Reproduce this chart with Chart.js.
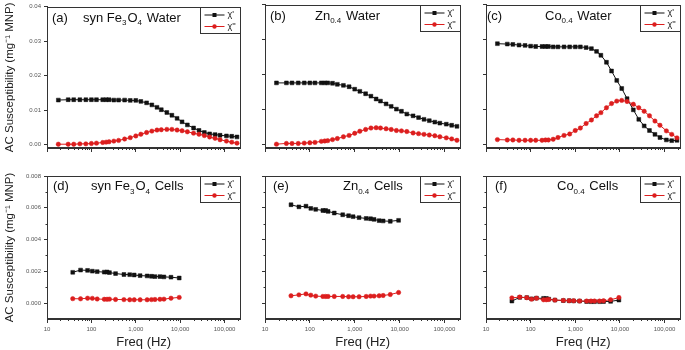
<!DOCTYPE html>
<html>
<head>
<meta charset="utf-8">
<script src="https://cdn.jsdelivr.net/npm/chart.js@4.4.1/dist/chart.umd.min.js"></script>
<style>
  html, body { margin: 0; padding: 0; background: #fff; }
  #wrap { position: relative; width: 685px; height: 350px; overflow: hidden; }
  canvas { position: absolute; }
</style>
</head>
<body>
<div id="wrap">
  <canvas id="pa" width="245" height="160" style="left:0px;top:0px"></canvas>
  <canvas id="pb" width="220" height="160" style="left:245px;top:0px"></canvas>
  <canvas id="pc" width="220" height="160" style="left:465px;top:0px"></canvas>
  <canvas id="pd" width="245" height="190" style="left:0px;top:160px"></canvas>
  <canvas id="pe" width="220" height="190" style="left:245px;top:160px"></canvas>
  <canvas id="pf" width="220" height="190" style="left:465px;top:160px"></canvas>
</div>
<script>
// frecuencias (Hz)
const freqWater = [18, 30, 40, 55, 75, 100, 130, 180, 215, 250, 320, 410, 560, 750, 1000, 1300, 1750, 2300, 3000, 3750, 5000, 6500, 8500, 11000, 14500, 20000, 26500, 35000, 46000, 61000, 79000, 110000, 145000, 190000];
const freqCells = [38, 57, 82, 105, 135, 195, 225, 255, 350, 540, 730, 920, 1250, 1800, 2250, 2700, 3500, 4300, 6200, 9500];

// (a) syn Fe3O4 Water
const aChi1 = [0.0129, 0.0130, 0.0130, 0.0130, 0.0130, 0.0130, 0.0130, 0.0130, 0.0130, 0.0130, 0.0129, 0.0129, 0.0129, 0.0128, 0.0128, 0.0125, 0.0121, 0.0115, 0.0108, 0.0101, 0.0093, 0.0085, 0.0076, 0.0066, 0.0057, 0.0048, 0.0041, 0.0035, 0.0031, 0.0029, 0.0027, 0.0025, 0.0024, 0.0022];
const aChi2 = [0.0001, 0.0001, 0.0001, 0.0002, 0.0002, 0.0003, 0.0004, 0.0006, 0.0007, 0.0008, 0.0010, 0.0012, 0.0016, 0.0020, 0.0025, 0.0030, 0.0035, 0.0039, 0.0042, 0.0043, 0.0044, 0.0044, 0.0042, 0.0040, 0.0037, 0.0033, 0.0030, 0.0026, 0.0022, 0.0018, 0.0014, 0.0010, 0.0007, 0.0004];
// (b) Zn0.4 Water
const bChi1 = [0.0176, 0.0176, 0.0176, 0.0176, 0.0176, 0.0176, 0.0176, 0.0176, 0.0176, 0.0176, 0.0175, 0.0172, 0.0169, 0.0165, 0.0158, 0.0152, 0.0145, 0.0138, 0.0130, 0.0124, 0.0116, 0.0109, 0.0101, 0.0095, 0.0087, 0.0082, 0.0077, 0.0072, 0.0068, 0.0064, 0.0061, 0.0058, 0.0055, 0.0052];
const bChi2 = [0.0001, 0.0003, 0.0003, 0.0003, 0.0004, 0.0005, 0.0006, 0.0009, 0.0010, 0.0011, 0.0014, 0.0017, 0.0022, 0.0026, 0.0032, 0.0038, 0.0043, 0.0047, 0.0048, 0.0047, 0.0045, 0.0043, 0.0040, 0.0039, 0.0037, 0.0033, 0.0031, 0.0029, 0.0027, 0.0025, 0.0022, 0.0019, 0.0016, 0.0012];
// (c) Co0.4 Water
const cChi1 = [0.0288, 0.0287, 0.0286, 0.0284, 0.0283, 0.0281, 0.0280, 0.0280, 0.0280, 0.0280, 0.0279, 0.0279, 0.0279, 0.0279, 0.0279, 0.0279, 0.0277, 0.0274, 0.0266, 0.0255, 0.0235, 0.0210, 0.0183, 0.0160, 0.0131, 0.0099, 0.0072, 0.0053, 0.0040, 0.0029, 0.0020, 0.0013, 0.0011, 0.0012];
const cChi2 = [0.0014, 0.0013, 0.0013, 0.0012, 0.0012, 0.0012, 0.0012, 0.0012, 0.0013, 0.0013, 0.0015, 0.0020, 0.0026, 0.0030, 0.0040, 0.0047, 0.0060, 0.0070, 0.0082, 0.0091, 0.0105, 0.0117, 0.0124, 0.0126, 0.0123, 0.0115, 0.0105, 0.0095, 0.0082, 0.0067, 0.0055, 0.0039, 0.0029, 0.0019];
// (d) syn Fe3O4 Cells
const dChi1 = [0.00194, 0.00208, 0.00206, 0.00201, 0.00198, 0.00195, 0.00196, 0.00192, 0.00186, 0.00180, 0.00179, 0.00177, 0.00173, 0.00171, 0.00169, 0.00167, 0.00167, 0.00165, 0.00163, 0.00158];
const dChi2 = [0.00028, 0.00027, 0.00031, 0.00030, 0.00026, 0.00024, 0.00024, 0.00025, 0.00023, 0.00022, 0.00021, 0.00021, 0.00021, 0.00021, 0.00022, 0.00023, 0.00024, 0.00025, 0.00031, 0.00036];
// (e) Zn0.4 Cells
const eChi1 = [0.00619, 0.00606, 0.00610, 0.00596, 0.00590, 0.00583, 0.00583, 0.00577, 0.00567, 0.00556, 0.00550, 0.00544, 0.00538, 0.00533, 0.00531, 0.00527, 0.00519, 0.00517, 0.00515, 0.00521];
const eChi2 = [0.00046, 0.00052, 0.00058, 0.00050, 0.00044, 0.00042, 0.00042, 0.00042, 0.00042, 0.00042, 0.00040, 0.00040, 0.00040, 0.00042, 0.00044, 0.00044, 0.00046, 0.00048, 0.00054, 0.00067];
// (f) Co0.4 Cells
const fChi1 = [0.00013, 0.00036, 0.00035, 0.00027, 0.00031, 0.00030, 0.00029, 0.00025, 0.00019, 0.00016, 0.00015, 0.00014, 0.00013, 0.00010, 0.00009, 0.00009, 0.00009, 0.00010, 0.00011, 0.00019];
const fChi2 = [0.00033, 0.00038, 0.00034, 0.00025, 0.00031, 0.00021, 0.00021, 0.00023, 0.00019, 0.00017, 0.00015, 0.00015, 0.00013, 0.00013, 0.00013, 0.00013, 0.00013, 0.00015, 0.00021, 0.00035];

// ticks
const xMajorTicks = [10, 100, 1000, 10000, 100000];
const xTickLabels = ['10', '100', '1,000', '10,000', '100,000'];
const yTicksWater = [0, 0.01, 0.02, 0.03, 0.04];
const yLabelsWater = ['0.00', '0.01', '0.02', '0.03', '0.04'];
const yTicksCells = [0, 0.002, 0.004, 0.006, 0.008];
const yLabelsCells = ['0.000', '0.002', '0.004', '0.006', '0.008'];
const yMinorCells = [0.001, 0.003, 0.005, 0.007];
const legendLabels = ["χ'", "χ''"];

const FONT = '"Liberation Sans", Arial, sans-serif';
const BLACK = '#111111';
const RED = '#dc1e1e';
const AXIS = '#333333';

// marcos, ticks menores, titulo del panel y leyenda
const panelDeco = {
    id: 'panelDeco',
    afterDraw(chart, args, opts) {
        const ctx = chart.ctx;
        const a = chart.chartArea;
        const xs = chart.scales.x;
        const ys = chart.scales.y;
        ctx.save();

        // marco completo
        ctx.strokeStyle = AXIS;
        ctx.lineWidth = 1;
        const L = Math.round(a.left) + 0.5, R = Math.round(a.right) - 0.5;
        const T = Math.round(a.top) + 0.5, B = Math.round(a.bottom) - 0.5;
        ctx.strokeRect(L, T, R - L, B - T);

        // ticks menores del eje x (log)
        ctx.beginPath();
        xMajorTicks.forEach(base => {
            for (let k = 2; k <= 9; k++) {
                const v = base * k;
                if (v > xs.max) continue;
                const px = Math.round(xs.getPixelForValue(v)) + 0.5;
                ctx.moveTo(px, B);
                ctx.lineTo(px, B + 2.5);
            }
        });
        // ticks menores del eje y
        (opts.yMinor || []).forEach(v => {
            const py = Math.round(ys.getPixelForValue(v)) + 0.5;
            ctx.moveTo(L, py);
            ctx.lineTo(L - 2, py);
        });
        ctx.stroke();

        // titulo del panel con subindices
        ctx.fillStyle = '#111';
        ctx.textBaseline = 'alphabetic';
        ctx.textAlign = 'left';
        const ty = a.top + opts.titleY;
        ctx.font = '13px ' + FONT;
        ctx.fillText(opts.tag, a.left + opts.tagX, ty);
        let x = a.left + opts.nameX;
        opts.runs.forEach(r => {
            const sub = r[1];
            ctx.font = (sub ? '8px ' : '13px ') + FONT;
            ctx.fillText(r[0], x, ty + (sub ? 3.5 : 0));
            x += ctx.measureText(r[0]).width + (sub ? 1 : 0);
        });

        // leyenda
        const bw = 40, bh = 26;
        const bx = Math.round(a.right) - bw - 0.5, by = T;
        ctx.fillStyle = '#fff';
        ctx.fillRect(bx, by, bw, bh);
        ctx.strokeStyle = AXIS;
        ctx.strokeRect(bx, by, bw, bh);
        const rows = [
            { c: BLACK, rect: true, y: by + 7.5, t: legendLabels[0] },
            { c: RED, rect: false, y: by + 19, t: legendLabels[1] }
        ];
        rows.forEach(r => {
            ctx.strokeStyle = r.c;
            ctx.fillStyle = r.c;
            ctx.lineWidth = 1;
            ctx.beginPath();
            ctx.moveTo(bx + 4, r.y);
            ctx.lineTo(bx + 24, r.y);
            ctx.stroke();
            const mx = bx + 14;
            if (r.rect) {
                ctx.fillRect(mx - 2, r.y - 2, 4, 4);
            } else {
                ctx.beginPath();
                ctx.arc(mx, r.y, 2.2, 0, Math.PI * 2);
                ctx.fill();
            }
            ctx.fillStyle = '#222';
            ctx.font = '9px ' + FONT;
            ctx.textBaseline = 'middle';
            ctx.fillText(r.t, bx + 27, r.y);
        });

        ctx.restore();
    }
};

function pts(freq, vals) {
    return freq.map((f, i) => ({ x: f, y: vals[i] }));
}

function makePanel(id, cfg) {
    const canvas = document.getElementById(id);
    return new Chart(canvas.getContext('2d'), {
        type: 'line',
        data: {
            datasets: [{
                label: legendLabels[1],
                data: pts(cfg.freq, cfg.chi2),
                borderColor: RED,
                backgroundColor: RED,
                borderWidth: 1,
                pointStyle: 'circle',
                pointRadius: 2.2,
                pointBorderWidth: 0.5,
                tension: 0,
                order: 0
            }, {
                label: legendLabels[0],
                data: pts(cfg.freq, cfg.chi1),
                borderColor: BLACK,
                backgroundColor: BLACK,
                borderWidth: 1,
                pointStyle: 'rect',
                pointRadius: 2.7,
                pointBorderWidth: 0.5,
                tension: 0,
                order: 1
            }]
        },
        options: {
            responsive: false,
            animation: false,
            devicePixelRatio: 1,
            events: [],
            layout: { padding: { top: cfg.padTop, right: cfg.padRight, left: 0, bottom: 0 } },
            plugins: {
                legend: { display: false },
                tooltip: { enabled: false },
                panelDeco: cfg.deco
            },
            scales: {
                x: {
                    type: 'logarithmic',
                    min: 10,
                    max: 228000,
                    afterBuildTicks: s => { s.ticks = xMajorTicks.map(v => ({ value: v, major: true })); },
                    afterFit: s => { s.height = cfg.xHeight; },
                    grid: { drawOnChartArea: false, drawTicks: true, tickLength: 4, tickColor: AXIS, color: AXIS },
                    border: { color: AXIS },
                    ticks: {
                        display: cfg.showX,
                        autoSkip: false,
                        maxRotation: 0,
                        padding: 3,
                        color: '#555',
                        font: { size: 6, family: FONT },
                        callback: v => xTickLabels[xMajorTicks.indexOf(v)]
                    },
                    title: {
                        display: cfg.showX,
                        text: 'Freq (Hz)',
                        color: '#222',
                        font: { size: 13, family: FONT },
                        padding: 0
                    }
                },
                y: {
                    type: 'linear',
                    min: -0.001,
                    max: cfg.yMax,
                    afterBuildTicks: s => { s.ticks = cfg.yTicks.map(v => ({ value: v })); },
                    afterFit: s => { s.width = cfg.yWidth; },
                    grid: { drawOnChartArea: false, drawTicks: true, tickLength: 3, tickColor: AXIS, color: AXIS },
                    border: { color: AXIS },
                    ticks: {
                        display: cfg.showY,
                        padding: 3,
                        color: '#555',
                        font: { size: 6, family: FONT },
                        callback: v => cfg.yLabels[cfg.yTicks.indexOf(v)]
                    },
                    title: {
                        display: cfg.showY,
                        text: 'AC Susceptibility (mg⁻¹ MNP)',
                        color: '#222',
                        font: { size: 11.5, family: FONT },
                        padding: { top: 3, bottom: 0 }
                    }
                }
            }
        },
        plugins: [panelDeco]
    });
}

const water = { freq: freqWater, yMax: 0.04, yTicks: yTicksWater, yLabels: yLabelsWater, padTop: 4, xHeight: 12, showX: false };
const cells = { freq: freqCells, yMax: 0.008, yTicks: yTicksCells, yLabels: yLabelsCells, padTop: 16, xHeight: 31, showX: true };

makePanel('pa', Object.assign({}, water, { chi1: aChi1, chi2: aChi2, yWidth: 47, padRight: 2, showY: true,
    deco: { tag: '(a)', tagX: 5, nameX: 36, titleY: 15, runs: [['syn Fe', 0], ['3', 1], ['O', 0], ['4', 1], [' Water', 0]] } }));
makePanel('pb', Object.assign({}, water, { chi1: bChi1, chi2: bChi2, yWidth: 20, padRight: 3, showY: false,
    deco: { tag: '(b)', tagX: 5, nameX: 50, titleY: 15, runs: [['Zn', 0], ['0.4', 1], [' Water', 0]] } }));
makePanel('pc', Object.assign({}, water, { chi1: cChi1, chi2: cChi2, yWidth: 21, padRight: 2, showY: false,
    deco: { tag: '(c)', tagX: 1, nameX: 59, titleY: 15, runs: [['Co', 0], ['0.4', 1], [' Water', 0]] } }));
makePanel('pd', Object.assign({}, cells, { chi1: dChi1, chi2: dChi2, yWidth: 47, padRight: 2, showY: true,
    deco: { tag: '(d)', tagX: 6, nameX: 44, titleY: 14, yMinor: yMinorCells, runs: [['syn Fe', 0], ['3', 1], ['O', 0], ['4', 1], [' Cells', 0]] } }));
makePanel('pe', Object.assign({}, cells, { chi1: eChi1, chi2: eChi2, yWidth: 20, padRight: 3, showY: false,
    deco: { tag: '(e)', tagX: 8, nameX: 78, titleY: 14, yMinor: yMinorCells, runs: [['Zn', 0], ['0.4', 1], [' Cells', 0]] } }));
makePanel('pf', Object.assign({}, cells, { chi1: fChi1, chi2: fChi2, yWidth: 21, padRight: 2, showY: false,
    deco: { tag: '(f)', tagX: 9, nameX: 71, titleY: 14, yMinor: yMinorCells, runs: [['Co', 0], ['0.4', 1], [' Cells', 0]] } }));
</script>
</body>
</html>
